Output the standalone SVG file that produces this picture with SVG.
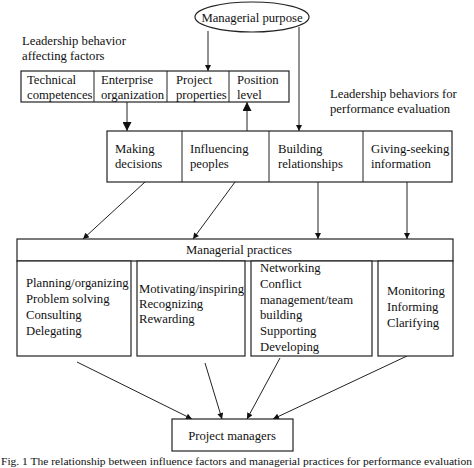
<svg xmlns="http://www.w3.org/2000/svg" width="474" height="468" viewBox="0 0 474 468" font-family="'Liberation Serif', 'Times New Roman', Tinos, serif" font-size="12.7">
<defs>
<marker id="ah" viewBox="0 0 10 10" refX="10" refY="5" markerWidth="8" markerHeight="6" markerUnits="userSpaceOnUse" orient="auto"><path d="M0,0 L10,5 L0,10 z" fill="#111"/></marker>
<marker id="ahb" viewBox="0 0 10 10" refX="10" refY="5" markerWidth="11" markerHeight="9" markerUnits="userSpaceOnUse" orient="auto"><path d="M0,0 L10,5 L0,10 z" fill="#111"/></marker>
</defs>
<style>
text{font-family:'Liberation Serif','Times New Roman',Tinos,serif;font-size:12.7px;fill:#111}
.box{fill:#fff;stroke:#222;stroke-width:1.2}
.ln{stroke:#222;stroke-width:1;fill:none}
.c{text-anchor:middle}
</style>
<rect width="474" height="468" fill="#fff"/>
<g id="labels">
<text x="22" y="45">Leadership behavior</text>
<text x="22" y="60">affecting factors</text>
<text x="330" y="98">Leadership behaviors for</text>
<text x="330" y="113">performance evaluation</text>
</g>
<g id="connectors">
<line class="ln" x1="208" y1="31" x2="208" y2="71" marker-end="url(#ah)"/>
<polyline class="ln" points="299,27 299,131" marker-end="url(#ah)"/>
<line class="ln" x1="127" y1="102" x2="127" y2="131" stroke-width="2" marker-end="url(#ahb)"/>
<line class="ln" x1="247" y1="131" x2="247" y2="102" stroke-width="2" marker-end="url(#ahb)"/>
<line class="ln" x1="145" y1="182" x2="83" y2="239" marker-end="url(#ah)"/>
<line class="ln" x1="235" y1="182" x2="193" y2="239" marker-end="url(#ah)"/>
<line class="ln" x1="318" y1="182" x2="318" y2="239" marker-end="url(#ah)"/>
<line class="ln" x1="407" y1="182" x2="407" y2="239" marker-end="url(#ah)"/>
<line class="ln" x1="77" y1="362" x2="192" y2="419" marker-end="url(#ah)"/>
<line class="ln" x1="205" y1="363" x2="222" y2="419" marker-end="url(#ah)"/>
<line class="ln" x1="280" y1="358" x2="247" y2="419" marker-end="url(#ah)"/>
<line class="ln" x1="407" y1="356" x2="273" y2="419" marker-end="url(#ah)"/>
</g>
<g id="managerial-purpose">
<ellipse class="box" cx="252" cy="17" rx="57" ry="15"/>
<text class="c" x="252" y="22">Managerial purpose</text>
</g>
<g id="factors">
<rect class="box" x="21" y="71" width="268" height="31"/>
<line class="ln" x1="94" y1="71" x2="94" y2="102"/>
<line class="ln" x1="167" y1="71" x2="167" y2="102"/>
<line class="ln" x1="229" y1="71" x2="229" y2="102"/>
<text x="27" y="84">Technical</text><text x="27" y="99">competences</text>
<text x="101" y="84">Enterprise</text><text x="101" y="99">organization</text>
<text x="176" y="84">Project</text><text x="176" y="99">properties</text>
<text x="237" y="84">Position</text><text x="237" y="99">level</text>
</g>
<g id="behaviors">
<rect class="box" x="107" y="131" width="345" height="51"/>
<line class="ln" x1="182" y1="131" x2="182" y2="182"/>
<line class="ln" x1="269" y1="131" x2="269" y2="182"/>
<line class="ln" x1="363" y1="131" x2="363" y2="182"/>
<text x="115" y="153">Making</text><text x="115" y="168">decisions</text>
<text x="190" y="153">Influencing</text><text x="190" y="168">peoples</text>
<text x="278" y="153">Building</text><text x="278" y="168">relationships</text>
<text x="371" y="153">Giving-seeking</text><text x="371" y="168">information</text>
</g>
<g id="managerial-practices">
<rect class="box" x="17" y="239" width="436" height="22"/>
<text class="c" x="239" y="254">Managerial practices</text>
</g>
<g id="practice-1">
<rect class="box" x="17" y="261" width="114" height="95"/>
<text x="26" y="287">Planning/organizing</text>
<text x="26" y="303">Problem solving</text>
<text x="26" y="319">Consulting</text>
<text x="26" y="335">Delegating</text>
</g>
<g id="practice-2">
<rect class="box" x="137" y="261" width="108" height="95"/>
<text x="139" y="293">Motivating/inspiring</text>
<text x="139" y="308">Recognizing</text>
<text x="139" y="323">Rewarding</text>
</g>
<g id="practice-3">
<rect class="box" x="251" y="261" width="121" height="95"/>
<text x="260" y="272">Networking</text>
<text x="260" y="288">Conflict</text>
<text x="260" y="304">management/team</text>
<text x="260" y="319">building</text>
<text x="260" y="335">Supporting</text>
<text x="260" y="351">Developing</text>
</g>
<g id="practice-4">
<rect class="box" x="378" y="261" width="75" height="95"/>
<text x="387" y="295">Monitoring</text>
<text x="387" y="311">Informing</text>
<text x="387" y="327">Clarifying</text>
</g>
<g id="project-managers">
<rect class="box" x="172" y="419" width="121" height="32"/>
<text class="c" x="232" y="440">Project managers</text>
</g>
<g id="caption">
<text x="1" y="465" style="font-size:11px" textLength="471" lengthAdjust="spacingAndGlyphs">Fig. 1  The relationship between influence factors and managerial practices for performance evaluation</text>
</g>
</svg>
